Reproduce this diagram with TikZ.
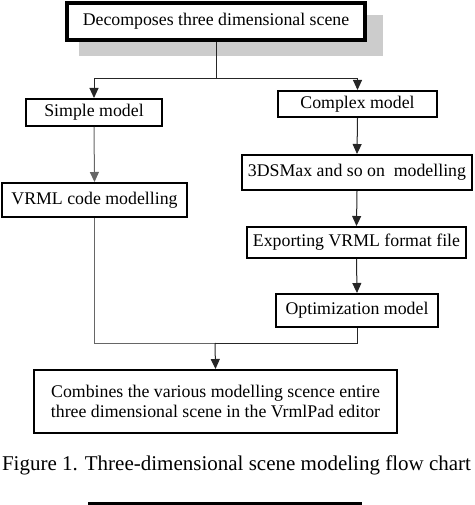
\documentclass[tikz,border=0pt]{standalone}
\usepackage{fontspec}
\setmainfont{Liberation Serif}
\usetikzlibrary{arrows.meta}
\begin{document}
\begin{tikzpicture}[x=1pt,y=-1pt,
  box/.style={draw=black,line width=2pt,fill=white,inner sep=0pt,font=\fontsize{17.8}{20}\selectfont},
  topbox/.style={draw=black,line width=4pt,fill=white,inner sep=0pt,font=\fontsize{17.8}{20}\selectfont},
  conn/.style={draw=black!85,line width=1pt},
  arr/.style={conn,-{Triangle[width=9pt,length=10pt]}},
  caption/.style={font=\fontsize{21}{24}\selectfont,inner sep=0pt}]
\useasboundingbox (0,0) rectangle (474,505);
% shadow
\fill[black!20] (79,15) rectangle (383,56);
\node[topbox,minimum width=298pt,minimum height=37pt] (top) at (216,21.5) {Decomposes three dimensional scene};
\node[box,minimum width=136pt,minimum height=27pt] (simple) at (94,112.5) {Simple model};
\node[box,minimum width=159pt,minimum height=26pt] (complex) at (357.5,104) {Complex model};
\node[box,minimum width=230pt,minimum height=35pt] (max) at (357,172.5) {3DSMax and so on\ \ modelling};
\node[box,minimum width=185pt,minimum height=34pt] (vrml) at (94.5,200) {VRML code modelling};
\node[box,minimum width=219pt,minimum height=31pt] (export) at (356.5,242.5) {Exporting VRML format file};
\node[box,minimum width=162pt,minimum height=33pt] (opt) at (357,310.5) {Optimization model};
\node[box,minimum width=363pt,minimum height=63pt,align=center] (final) at (215.5,401.5) {Combines the various modelling scence entire\\three dimensional scene in the VrmlPad editor};
\node[caption] (cap) at (236.5,465) {Figure 1. Three-dimensional scene modeling flow chart};
\fill[black] (88,502) rectangle (362,505);
% connectors
\coordinate (split) at (216,79);
\coordinate (join) at (215,343);
\draw[conn] (top.south) -- (split);
\draw[arr] (split) -| (simple.north);
\draw[arr] (split) -| (complex.north);
\draw[arr,draw=black!60] (simple.south) -- (vrml.north);
\draw[arr] (complex.south) -- (max.north);
\draw[arr] (max.south) -- (export.north);
\draw[arr] (export.south) -- (opt.north);
\draw[conn,draw=black!60] (vrml.south) |- (join);
\draw[conn] (opt.south) |- (join);
\draw[arr] (join) -- (final.north);
\end{tikzpicture}
\end{document}
